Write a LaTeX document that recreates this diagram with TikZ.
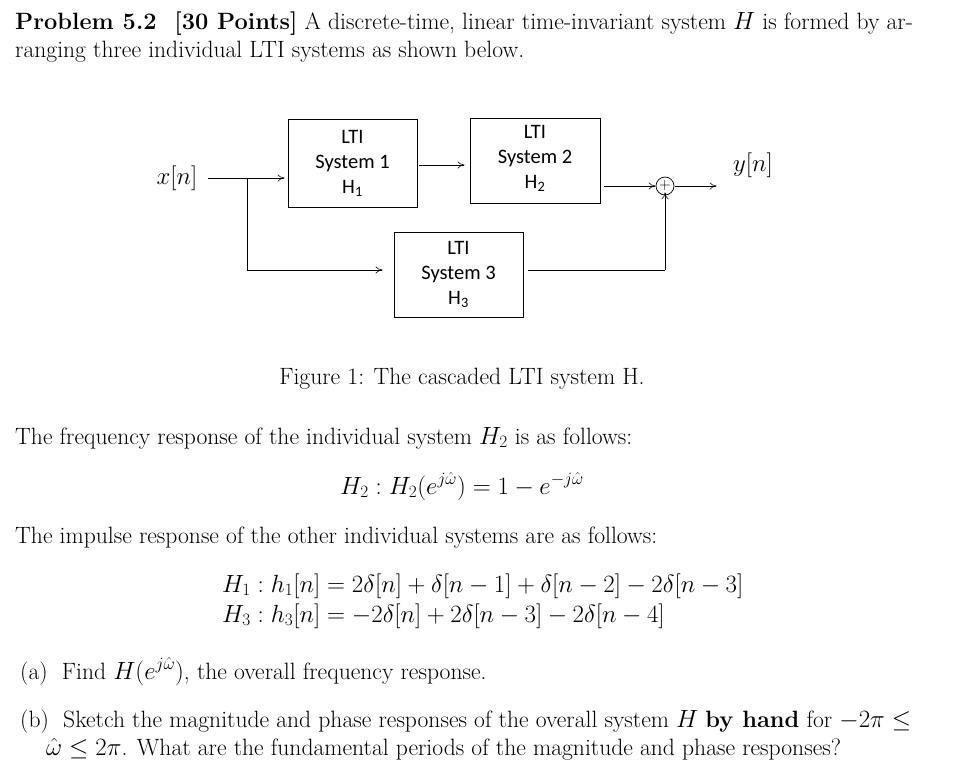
\documentclass[tikz,border=0pt]{standalone}
\usepackage{amsmath}
\usepackage{fontspec}
\newfontfamily\boxfont{Carlito}
\usetikzlibrary{arrows.meta}
\begin{document}
\begin{tikzpicture}[x=1pt,y=-1pt,
  blk/.style={draw,line width=0.9pt,inner sep=0pt},
  lab/.style={font=\boxfont\fontsize{20.5}{25}\selectfont,align=center},
  txt/.style={anchor=base west,inner sep=0pt,font=\fontsize{23.6}{28}\selectfont},
  eq/.style={anchor=base west,inner sep=0pt,font=\fontsize{24.2}{28}\selectfont},
  arr/.style={-{To[length=7pt,width=7pt]},line width=0.6pt}]
\useasboundingbox (0,0) rectangle (962,784);
\node[txt] (t1) at (15,30) {\textbf{Problem 5.2 \ [30 Points]} A discrete-time, linear time-invariant system $H$ is formed by ar-};
\node[txt] (t2) at (15,58) {ranging three individual LTI systems as shown below.};
% diagram
\node[blk,minimum width=129pt,minimum height=88pt] (b1) at (352.5,163) {};
\node[lab] (l1) at (352.5,163) {LTI\\System 1\\H\textsubscript{1}};
\node[blk,minimum width=130pt,minimum height=85pt] (b2) at (535,160.5) {};
\node[lab] (l2) at (535,158) {LTI\\System 2\\H\textsubscript{2}};
\node[blk,minimum width=129pt,minimum height=85pt] (b3) at (458.5,274.5) {};
\node[lab] (l3) at (458.5,274.5) {LTI\\System 3\\H\textsubscript{3}};
\node[draw,circle,minimum size=18pt,inner sep=0pt,line width=0.7pt,font=\fontsize{16}{16}\selectfont] (s) at (665,186) {+};
\node[font=\fontsize{26}{26}\selectfont] (x) at (177,178) {$x[n]$};
\node[font=\fontsize{26}{26}\selectfont] (y) at (753,165) {$y[n]$};
\coordinate (xs) at (208,178);
\coordinate (br) at (247,178);
\coordinate (bd) at (247,270);
\draw[arr] (xs) -- ([xshift=-3pt]b1.west|-xs);
\draw[line width=0.6pt] (br) -- (bd);
\draw[arr] (bd) -- ([xshift=-11pt]b3.west|-bd);
\draw[arr] ([xshift=2pt]b1.east|-0,165) -- ([xshift=-5pt]b2.west|-0,165);
\draw[arr] ([xshift=4pt]b2.east|-s) -- (s.west);
\draw[arr] ([xshift=1pt]s.east) -- ([xshift=-13pt]y.west|-s);
\coordinate (c3) at (665,270);
\draw[line width=0.6pt] ([xshift=5pt]b3.east|-c3) -- (c3);
\draw[arr] (c3) -- ([yshift=3pt]s.south);
\node[font=\fontsize{23.6}{28}\selectfont,anchor=base,inner sep=0pt] (cap) at (462,384) {Figure 1: The cascaded LTI system H.};
\node[txt] (t3) at (15,444) {The frequency response of the individual system $H_2$ is as follows:};
\node[font=\fontsize{23.4}{28}\selectfont,anchor=base,inner sep=0pt] (e1) at (462,494) {$H_2: H_2(e^{j\hat\omega}) = 1 - e^{-j\hat\omega}$};
\node[txt] (t4) at (15,543) {The impulse response of the other individual systems are as follows:};
\node[eq] (e2) at (222,592) {$H_1: h_1[n] = 2\delta[n]+\delta[n-1]+\delta[n-2]-2\delta[n-3]$};
\node[eq] (e3) at (222,622) {$H_3: h_3[n] = -2\delta[n]+2\delta[n-3]-2\delta[n-4]$};
\node[txt] (a) at (20,679) {(a) \ Find $H(e^{j\hat\omega})$, the overall frequency response.};
\node[txt] (b) at (20,727) {(b) \ Sketch the magnitude and phase responses of the overall system $H$ \textbf{by hand} for $-2\pi \le$};
\node[txt] (b2t) at (46,755) {$\hat\omega \le 2\pi$. What are the fundamental periods of the magnitude and phase responses?};
\end{tikzpicture}
\end{document}
